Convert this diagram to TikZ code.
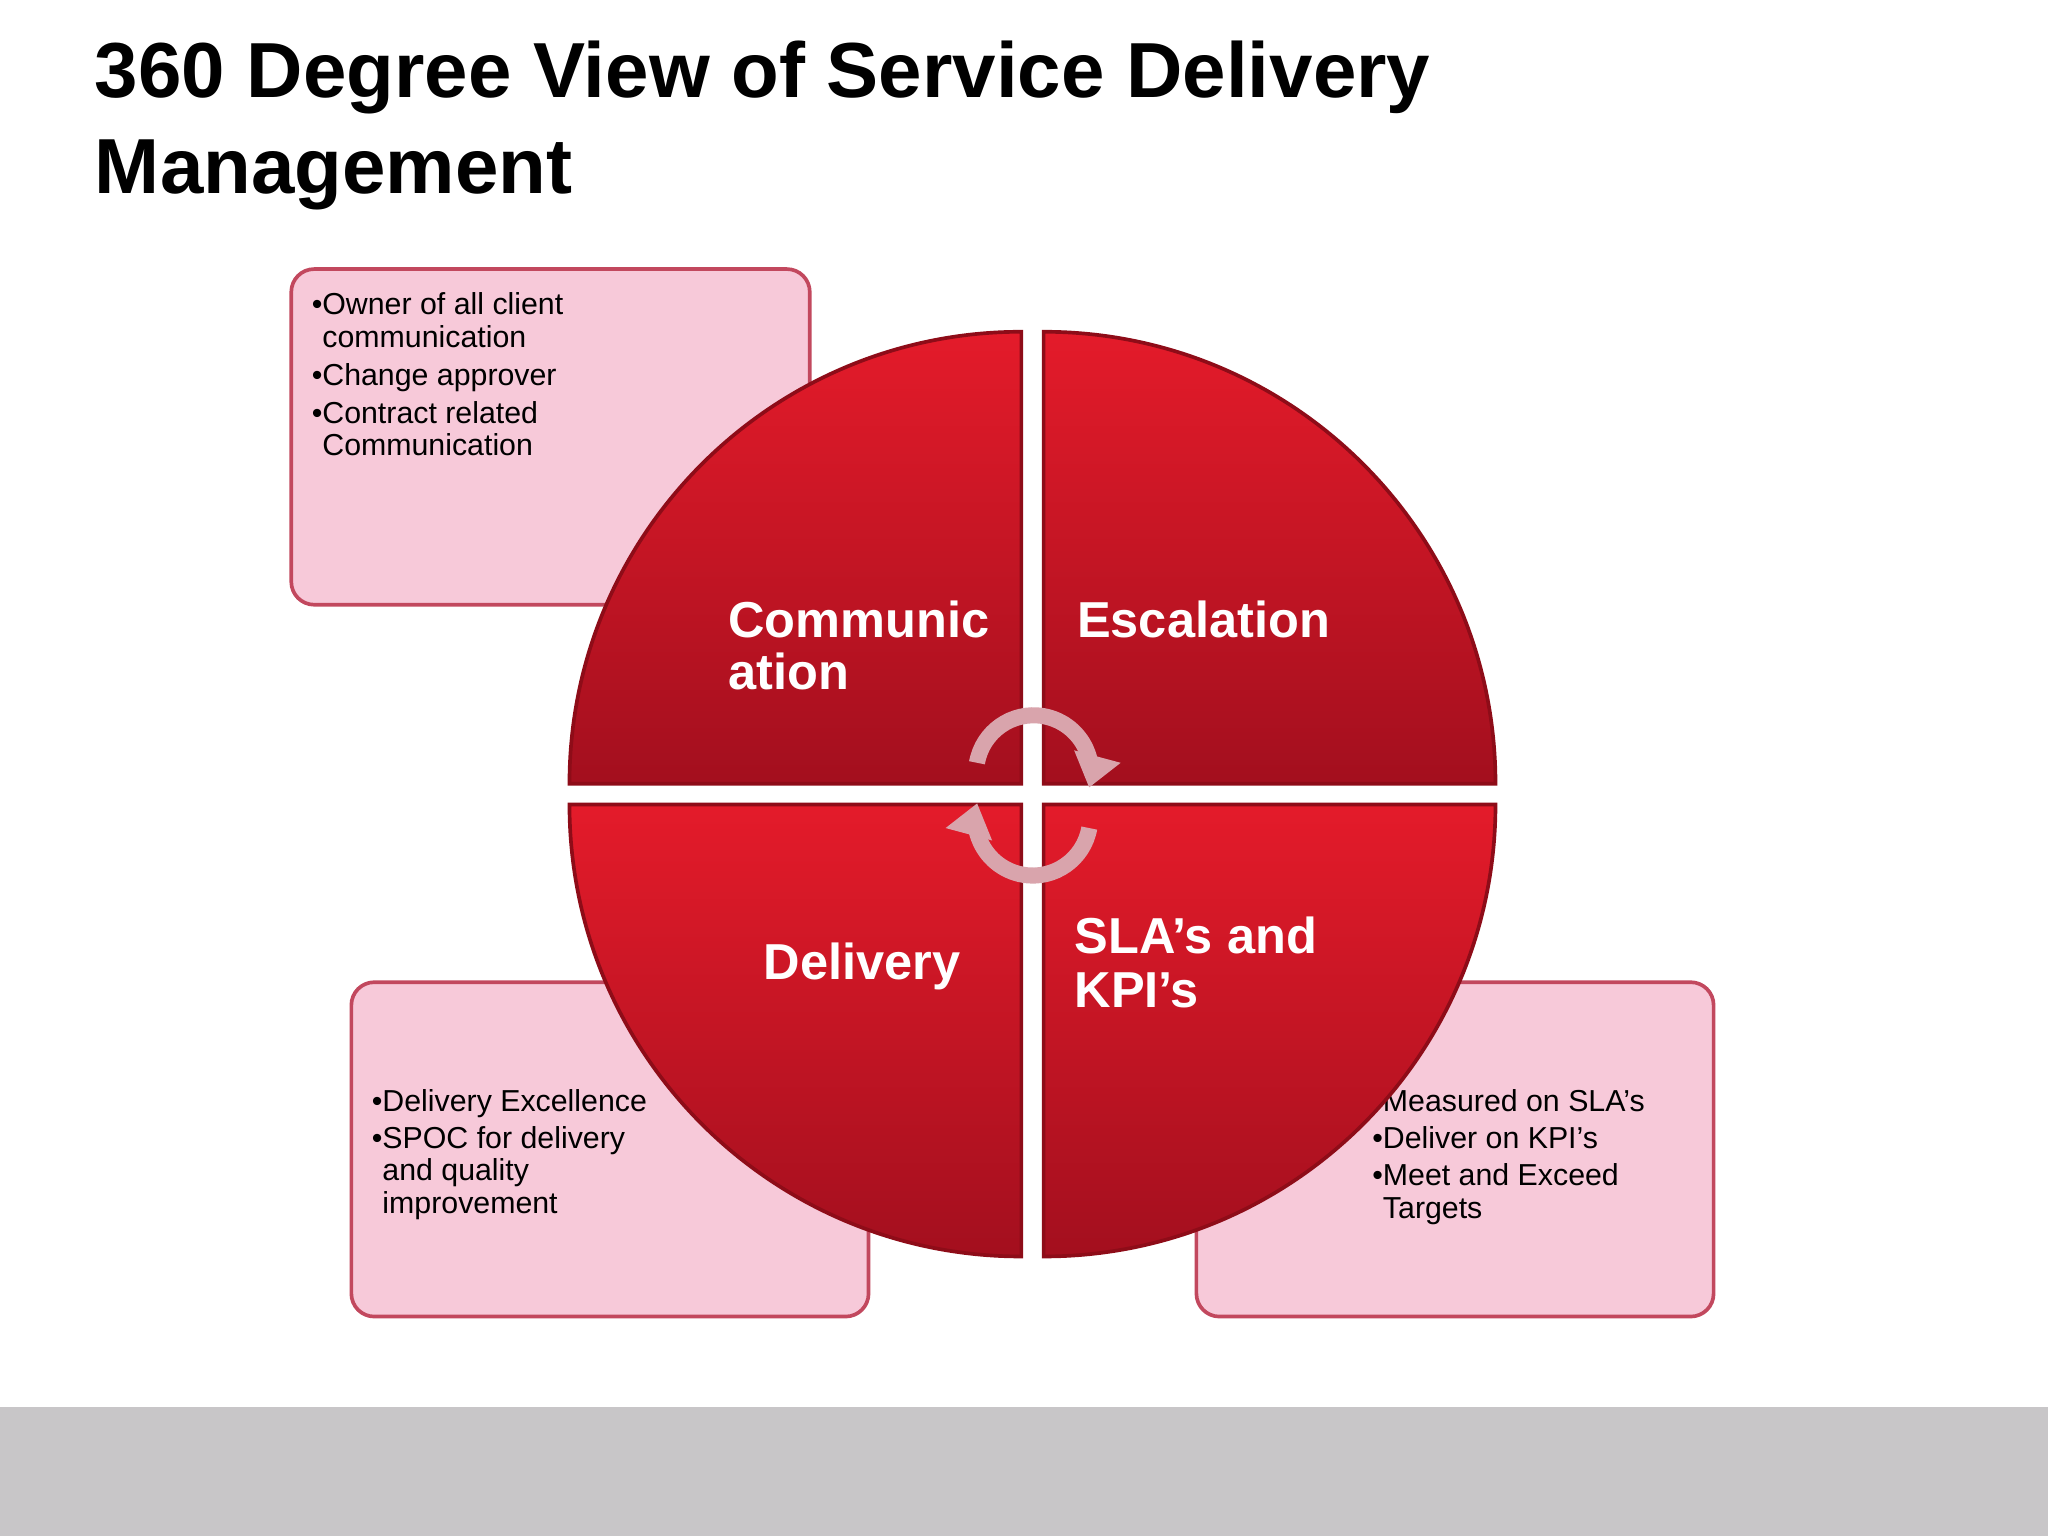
\documentclass[tikz,border=0pt]{standalone}
\usepackage{fontspec}
\setmainfont{Liberation Sans}
\usetikzlibrary{arrows.meta}
\definecolor{boxfill}{HTML}{F7C9D9}
\definecolor{boxline}{HTML}{C2485E}
\definecolor{redA}{HTML}{E41B2A}
\definecolor{redB}{HTML}{A30F1E}
\definecolor{redEdge}{HTML}{8E0C18}
\definecolor{band}{HTML}{C8C6C8}
\definecolor{arr}{HTML}{D9A4AC}
\tikzset{
  infobox/.style={draw=boxline,line width=0.8pt,fill=boxfill,rounded corners=5pt},
  btxt/.style={anchor=base west,font=\fontsize{6.6pt}{7.5pt}\selectfont,inner sep=0},
  quad/.style={draw=redEdge,line width=0.8pt,top color=redA,bottom color=redB},
  qlab/.style={anchor=base west,font=\fontsize{11pt}{12pt}\selectfont\bfseries,text=white,inner sep=0},
  carrow/.style={draw=arr,line width=3.5pt,-{Triangle[length=7pt,width=10pt]}}
}
\begin{document}
\begin{tikzpicture}[x=0.01cm,y=-0.01cm]
\useasboundingbox (0,0) rectangle (1568,1176);
\fill[band] (0,1077) rectangle (1568,1176);
\node[anchor=base west,inner sep=0,font=\fontsize{17pt}{20pt}\selectfont\bfseries] (t1) at (72,75) {360 Degree View of Service Delivery};
\node[anchor=base west,inner sep=0,font=\fontsize{17pt}{20pt}\selectfont\bfseries] (t2) at (72,148) {Management};
% boxes
\draw[infobox] (223,206) rectangle (620,463);
\draw[infobox] (269,752) rectangle (665,1008);
\draw[infobox] (916,752) rectangle (1312,1008);
\node[btxt] (a1) at (238,241) {•Owner of all client};
\node[btxt] (a2) at (238,266) {\phantom{•}communication};
\node[btxt] (a3) at (238,295) {•Change approver};
\node[btxt] (a4) at (238,324) {•Contract related};
\node[btxt] (a5) at (238,349) {\phantom{•}Communication};
\node[btxt] (b1) at (284,851) {•Delivery Excellence};
\node[btxt] (b2) at (284,879) {•SPOC for delivery};
\node[btxt] (b3) at (284,904) {\phantom{•}and quality};
\node[btxt] (b4) at (284,929) {\phantom{•}improvement};
\node[btxt] (c1) at (1050,851) {•Measured on SLA’s};
\node[btxt] (c2) at (1050,879) {•Deliver on KPI’s};
\node[btxt] (c3) at (1050,908) {•Meet and Exceed};
\node[btxt] (c4) at (1050,933) {\phantom{•}Targets};
% quadrants
\draw[quad] (782,600) -- (436,600) arc[start angle=180,end angle=270,radius=346] -- cycle;
\draw[quad] (799,600) -- (799,254) arc[start angle=270,end angle=360,radius=346] -- cycle;
\draw[quad] (782,616) -- (782,962) arc[start angle=90,end angle=180,radius=346] -- cycle;
\draw[quad] (799,616) -- (1145,616) arc[start angle=0,end angle=90,radius=346] -- cycle;
% labels
\node[qlab] (q1) at (557,488) {Communic};
\node[qlab] (q1b) at (557,528) {ation};
\node[qlab] (q2) at (824,488) {Escalation};
\node[qlab,anchor=base] (q3) at (660,750) {Delivery};
\node[qlab] (q4) at (822,730) {SLA’s and};
\node[qlab] (q4b) at (822,771) {KPI’s};
% circular arrows
\draw[carrow] (748,584) arc[start angle=190,end angle=375,radius=44];
\draw[carrow] (834,634) arc[start angle=10,end angle=195,radius=44];
\end{tikzpicture}
\end{document}
